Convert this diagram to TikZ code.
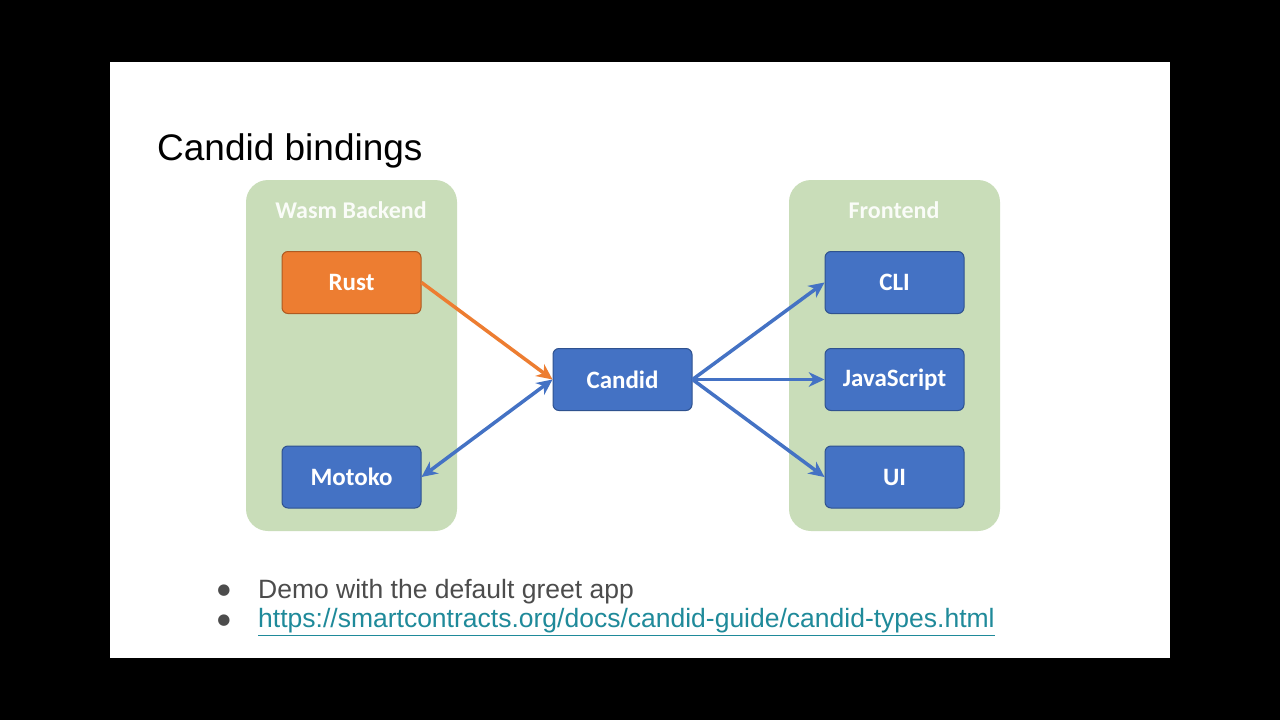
\documentclass[tikz,border=0pt]{standalone}
\usepackage{fontspec}
\setmainfont{Liberation Sans}
\newfontfamily\carl{Carlito}
\newfontfamily\djv{DejaVu Sans}
\usetikzlibrary{arrows.meta}
\definecolor{pgreen}{HTML}{C9DDB9}
\definecolor{bblue}{HTML}{4472C4}
\definecolor{bblueD}{HTML}{2F528F}
\definecolor{borange}{HTML}{ED7D31}
\definecolor{borangeD}{HTML}{AE5A21}
\definecolor{link}{HTML}{1F8A9A}
\tikzset{
 panel/.style={fill=pgreen,rounded corners=22pt},
 bx/.style={rounded corners=6pt,draw=bblueD,fill=bblue,line width=1pt,minimum width=139pt,minimum height=62pt,text=white,font=\carl\fontsize{25}{28}\selectfont\bfseries},
 ptitle/.style={text=white!90!pgreen,font=\carl\fontsize{24}{28}\selectfont\bfseries},
 tip/.tip={Stealth[length=16pt,width=15pt,line width=0pt]},
 arr/.style={line width=3.5pt,-tip},
 darr/.style={line width=3.5pt,tip-tip},
 bul/.style={font=\djv\fontsize{15}{16}\selectfont,text=black!70},
 btxt/.style={anchor=west,font=\fontsize{26.5}{30}\selectfont,inner sep=0},
}
\begin{document}
\begin{tikzpicture}[x=1pt,y=-1pt]
\fill[black] (0,0) rectangle (1280,720);
\fill[white] (110,62) rectangle (1170,658);
\node[anchor=base west,font=\fontsize{37}{40}\selectfont,inner sep=0] (title) at (157,160) {Candid bindings};
\fill[panel] (246,180) rectangle (457,531);
\fill[panel] (789,180) rectangle (1000,531);
\node[ptitle] (lt) at (351,210) {Wasm Backend};
\node[ptitle] (rt) at (894,210) {Frontend};
\node[bx,fill=borange,draw=borangeD] (rust) at (351.5,282.5) {Rust};
\node[bx] (motoko) at (351.5,477) {Motoko};
\node[bx] (candid) at (622.5,379.5) {Candid};
\node[bx] (cli) at (894.5,282.5) {CLI};
\node[bx] (js) at (894.5,379.5) {JavaScript};
\node[bx] (ui) at (894.5,477) {UI};
\draw[arr,borange] (rust.east) -- (candid.west);
\draw[darr,bblue] (motoko.east) -- (candid.west);
\draw[arr,bblue] (candid.east) -- (cli.west);
\draw[arr,bblue] (candid.east) -- (js.west);
\draw[arr,bblue] (candid.east) -- (ui.west);
\node[bul] (b1) at (224,591) {●};
\node[bul] (b2) at (224,621) {●};
\node[btxt,text=black!70] (t1) at (258,592) {Demo with the default greet app};
\node[btxt,text=link] (t2) at (258,622) {\underline{https://smartcontracts.org/docs/candid-guide/candid-types.html}};
\end{tikzpicture}
\end{document}
